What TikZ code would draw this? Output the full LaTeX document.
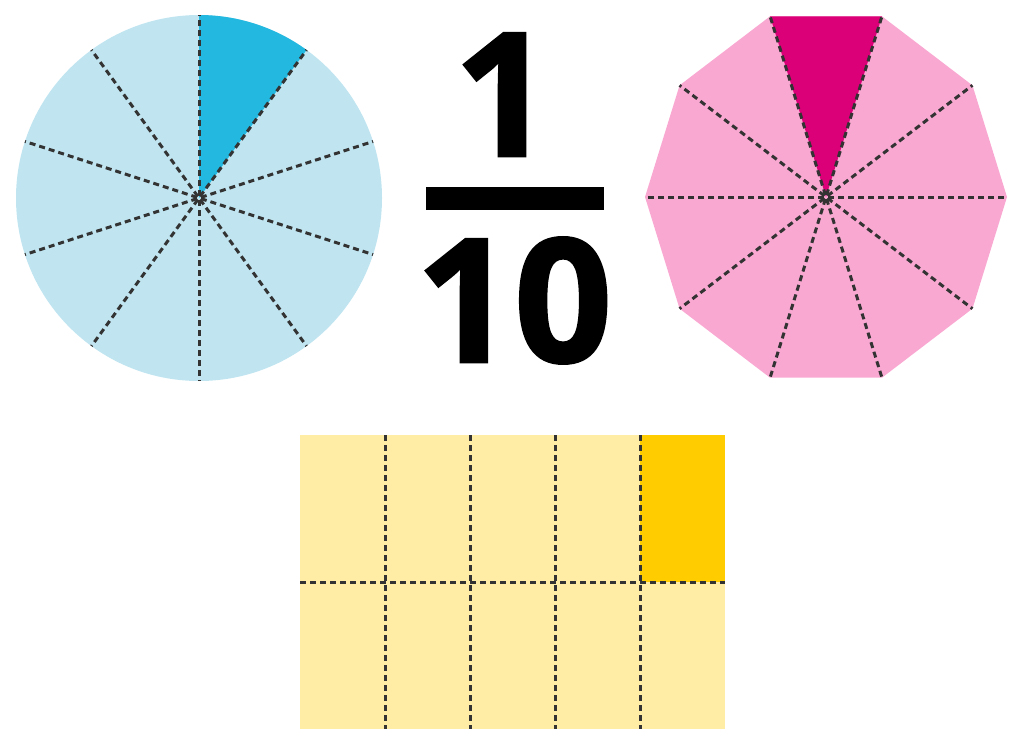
\documentclass[tikz,border=0pt]{standalone}
\usepackage{fontspec}
\newfontfamily\numfont{Open Sans}[BoldFeatures={FakeBold=1.5}]
\definecolor{lblue}{HTML}{C0E5F1}
\definecolor{dblue}{HTML}{22B8E0}
\definecolor{lpink}{HTML}{F9A8D2}
\definecolor{dpink}{HTML}{DB0077}
\definecolor{lyel}{HTML}{FFEDA6}
\definecolor{dyel}{HTML}{FFCC00}
\definecolor{dashc}{HTML}{333333}
\tikzset{dline/.style={draw=dashc, line width=3pt, dash pattern=on 6pt off 4pt},
  rline/.style={dline, dash phase=8pt},
  numtext/.style={inner sep=0pt, font=\numfont\bfseries\fontsize{172pt}{172pt}\selectfont}}
\begin{document}
\begin{tikzpicture}[x=1pt,y=-1pt]
\useasboundingbox (0,0) rectangle (1024,748);
% circle
\coordinate (cc) at (199,198);
\fill[lblue] (cc) circle (183pt);
\fill[dblue] (cc) -- ++(90:183pt) arc[start angle=90, end angle=54, radius=183pt] -- cycle;
\foreach \a in {0,36,...,324}
  \draw[rline] (cc) -- ++(\a+18:183pt);
% decagon
\coordinate (dc) at (826,197);
\foreach \k in {0,...,9}
  \coordinate (d\k) at ([shift={({181*cos(36*\k)},{-190*sin(36*\k)})}]dc);
\fill[lpink] (d0)--(d1)--(d2)--(d3)--(d4)--(d5)--(d6)--(d7)--(d8)--(d9)--cycle;
\fill[dpink] (dc)--(d2)--(d3)--cycle;
\foreach \k in {0,...,9}
  \draw[rline] (dc) -- (d\k);
% fraction
\node[numtext, anchor=base] (num) at (503,156) {1};
\fill (426,187) rectangle (604,210);
\node[numtext, anchor=base] (den) at (514,362) {10};
% rectangle
\fill[lyel] (300,435) rectangle (725,729);
\fill[dyel] (640,435) rectangle (725,582);
\foreach \x in {385,470,555,640}
  \draw[dline] (\x,435) -- (\x,729);
\draw[dline] (300,582) -- (725,582);
\end{tikzpicture}
\end{document}
